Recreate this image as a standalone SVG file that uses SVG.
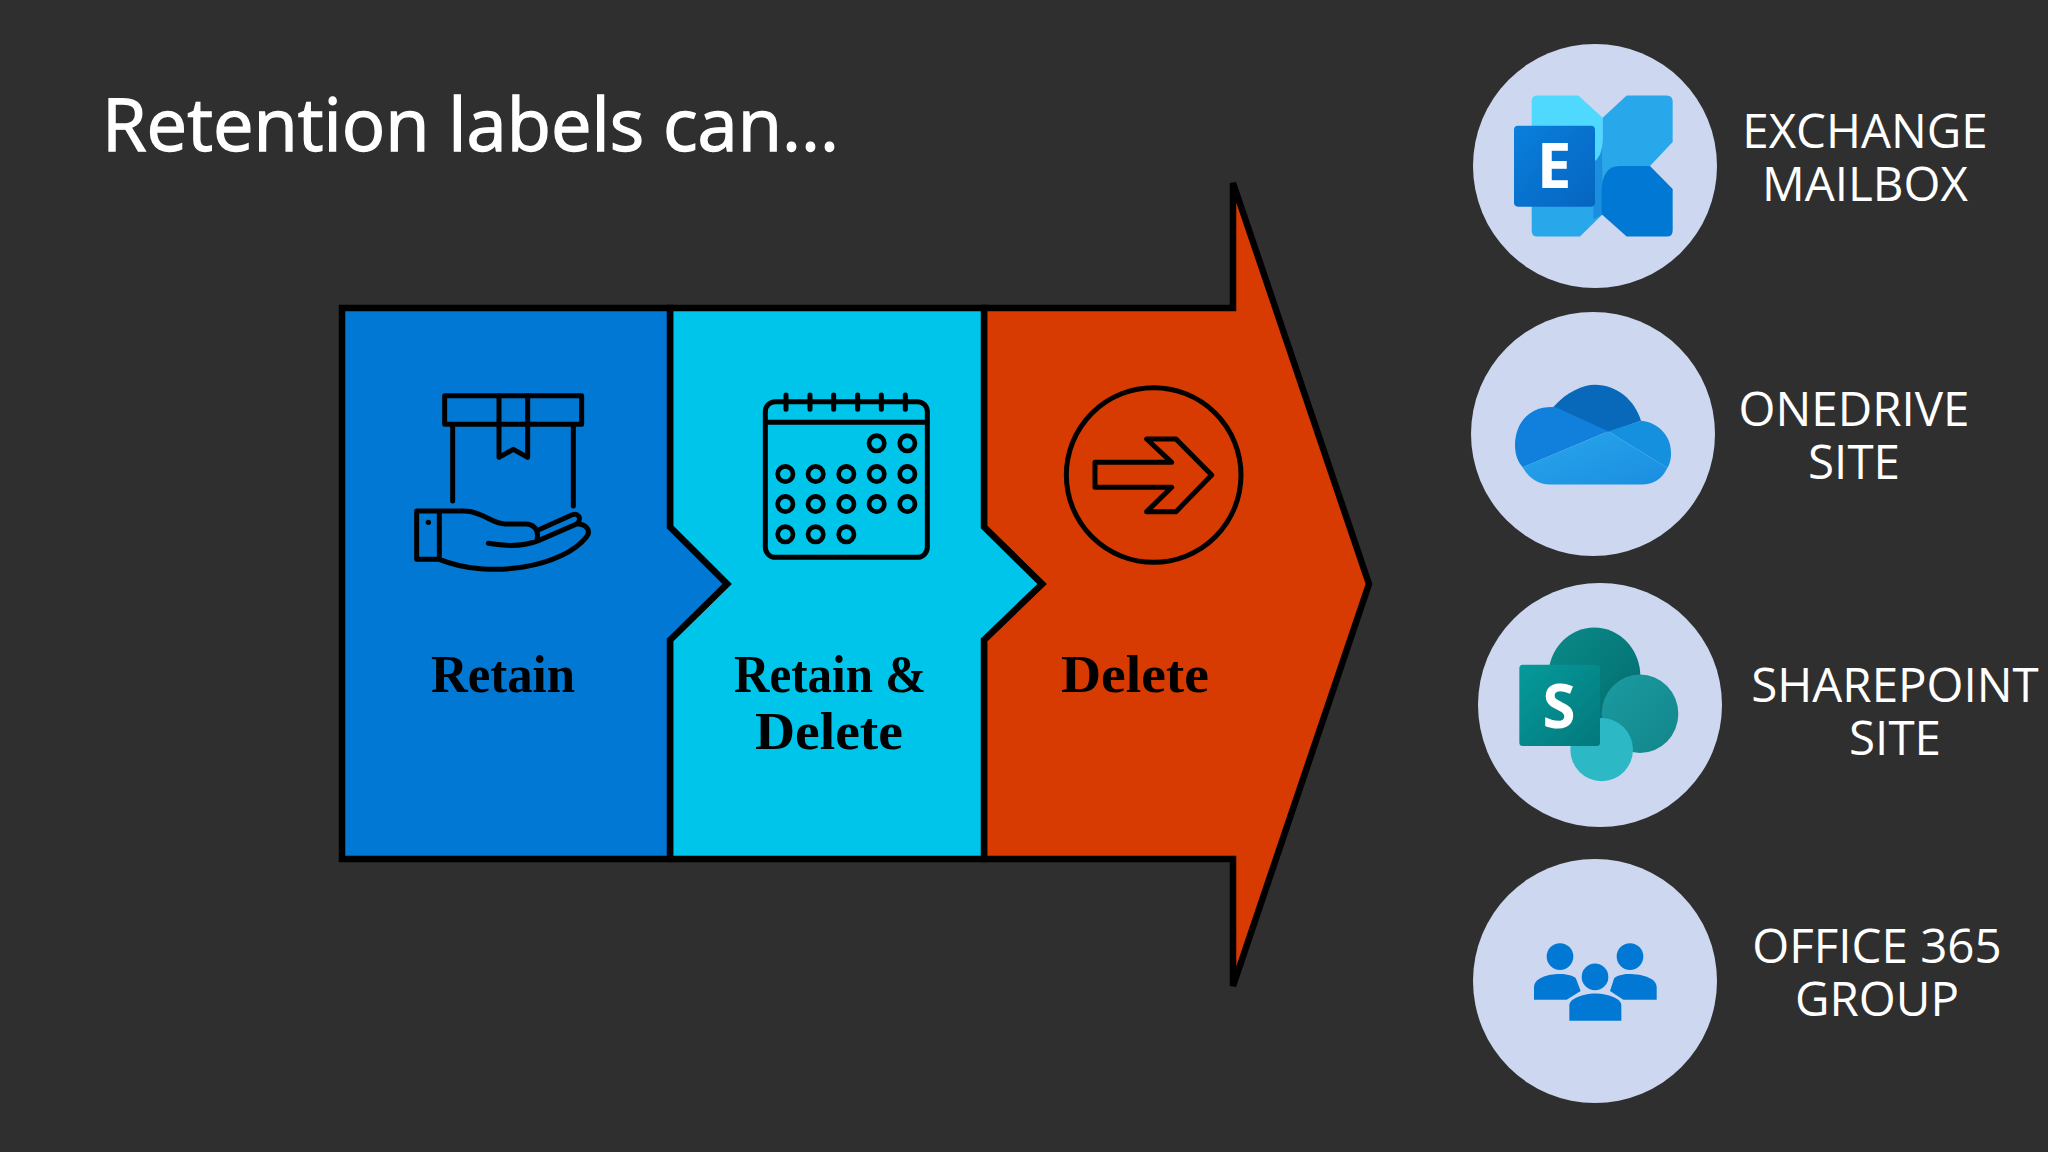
<svg xmlns="http://www.w3.org/2000/svg" width="2048" height="1152" viewBox="0 0 2048 1152">
<defs>
<style>
.seg{stroke:#000;stroke-width:6.5;stroke-linejoin:miter}
.ic{fill:none;stroke:#000;stroke-width:15;stroke-linejoin:round;stroke-linecap:round}
.dot{fill:none;stroke:#000;stroke-width:14}
.stage{font-family:"Liberation Serif",serif;font-weight:700;font-size:53px;fill:#000;text-anchor:middle}
.lbl{font-family:"Open Sans",sans-serif;font-size:47.5px;fill:#fff;text-anchor:middle}
.disc{fill:#cdd8f0}
.glyph{font-family:"Open Sans",sans-serif;font-weight:700;fill:#fff;text-anchor:middle}
</style>
<linearGradient id="exTop" x1="0" y1="0" x2="0" y2="1"><stop offset="0" stop-color="#50d9ff"/><stop offset=".5" stop-color="#50d9ff"/><stop offset=".5" stop-color="#28a8ea"/><stop offset="1" stop-color="#28a8ea"/></linearGradient>
<linearGradient id="exFront" x1="0" y1="0" x2="1" y2="1"><stop offset="0" stop-color="#0a7fdc"/><stop offset="1" stop-color="#0565c0"/></linearGradient>
<linearGradient id="odBottom" x1="0" y1="0" x2="1" y2="1"><stop offset="0" stop-color="#2aa6ec"/><stop offset="1" stop-color="#1a8ee0"/></linearGradient>
<linearGradient id="spBig" x1="0" y1="0" x2="1" y2="1"><stop offset="0" stop-color="#0a8a88"/><stop offset="1" stop-color="#036c70"/></linearGradient>
<linearGradient id="spRight" x1="0" y1="0" x2="1" y2="1"><stop offset="0" stop-color="#1a9ba1"/><stop offset="1" stop-color="#12868a"/></linearGradient>
<linearGradient id="spFront" x1="0" y1="0" x2="1" y2="1"><stop offset="0" stop-color="#069a9a"/><stop offset="1" stop-color="#03787c"/></linearGradient>
</defs>
<rect width="2048" height="1152" fill="#2f2f30"/>
<text id="title" x="102" y="151" font-family="Open Sans, sans-serif" font-size="73" fill="#fff" stroke="#fff" stroke-width="1.3" textLength="737" lengthAdjust="spacingAndGlyphs">Retention labels can...</text>
<g id="process-arrow">
<g id="delete">
<path class="seg" fill="#d83b01" d="M984 308H1233V183L1369 584L1233 986V859H984V640L1042 584L984 527Z"/>
<g transform="translate(1050 370) scale(.33333)">
<circle class="ic" cx="311" cy="315" r="262"/>
<path class="ic" d="M135 277H365L290 207H378L485 315L378 425H290L365 352H135Z"/>
</g>
<text class="stage" x="1135" y="692" textLength="148" lengthAdjust="spacingAndGlyphs">Delete</text>
</g>
<g id="retain-delete">
<path class="seg" fill="#00c5ea" d="M670 308H984V527L1042 584L984 640V859H670V640L727 584L670 527Z"/>
<g transform="translate(750 380) scale(.33333)">
<rect class="ic" x="46" y="65" width="486" height="467" rx="30"/>
<path class="ic" d="M46 127H532M108 45V88M180 45V88M251 45V88M323 45V88M394 45V88M466 45V88"/>
<circle class="dot" cx="380" cy="190" r="23"/><circle class="dot" cx="472" cy="190" r="23"/>
<circle class="dot" cx="106" cy="282" r="23"/><circle class="dot" cx="197" cy="282" r="23"/><circle class="dot" cx="289" cy="282" r="23"/><circle class="dot" cx="380" cy="282" r="23"/><circle class="dot" cx="472" cy="282" r="23"/>
<circle class="dot" cx="106" cy="372" r="23"/><circle class="dot" cx="197" cy="372" r="23"/><circle class="dot" cx="289" cy="372" r="23"/><circle class="dot" cx="380" cy="372" r="23"/><circle class="dot" cx="472" cy="372" r="23"/>
<circle class="dot" cx="106" cy="463" r="23"/><circle class="dot" cx="197" cy="463" r="23"/><circle class="dot" cx="289" cy="463" r="23"/>
</g>
<text class="stage"><tspan x="830" y="692" textLength="192" lengthAdjust="spacingAndGlyphs">Retain &amp;</tspan><tspan x="829" y="749" textLength="148" lengthAdjust="spacingAndGlyphs">Delete</tspan></text>
</g>
<g id="retain">
<path class="seg" fill="#0078d4" d="M342 308H670V527L727 584L670 640V859H342Z"/>
<g transform="translate(390 370) scale(.33333)">
<rect class="ic" x="164" y="77" width="411" height="86"/>
<path class="ic" d="M327 77V262L370 238L413 262V77M188 163V393M550 163V408"/>
<path class="ic" d="M148 423H80V568H148ZM148 423H225C280 425 305 462 345 462H410C440 465 447 490 440 512M295 520C350 530 400 530 445 512L560 462C578 445 565 425 540 437L445 480M560 462C585 460 605 480 590 500C520 590 300 630 148 568"/>
<circle cx="115" cy="457" r="8" fill="#000"/>
</g>
<text class="stage" x="503" y="692" textLength="144" lengthAdjust="spacingAndGlyphs">Retain</text>
</g>
</g>
<g id="exchange">
<circle class="disc" cx="1595" cy="166" r="122"/>
<g transform="translate(1460 30) scale(.33333 .34435)">
<path fill="url(#exTop)" d="M232 190H355L428 255V535L360 600H232Q215 600 215 583V207Q215 190 232 190Z"/>
<path fill="#28a8ea" d="M428 255L500 190H620Q638 190 638 208V325L570 395H480L428 440Z"/>
<path fill="#1a8fdf" d="M400 385Q428 365 428 320V535L400 550Z"/>
<path fill="#0078d4" d="M425 470Q425 395 480 395H570L638 462V582Q638 600 620 600H500L425 535Z"/>
<rect x="162" y="278" width="243" height="235" rx="12" fill="url(#exFront)"/>
</g>
<text class="glyph" x="1554" y="188" font-size="62">E</text>
<text class="lbl"><tspan x="1865" y="148">EXCHANGE</tspan><tspan x="1865" y="201">MAILBOX</tspan></text>
</g>
<g id="onedrive">
<circle class="disc" cx="1593" cy="434" r="122"/>
<g transform="translate(1460 30) scale(.33333 .34435)">
<path fill="#0869bb" d="M280 1095C320 1050 370 1030 405 1030C470 1030 525 1075 543 1135L440 1170Z"/>
<path fill="#1080dc" d="M285 1095C200 1090 165 1150 165 1205C165 1235 175 1255 188 1270L445 1165Z"/>
<path fill="#1490df" d="M543 1135C600 1140 635 1185 633 1230C633 1250 628 1262 622 1272L445 1165Z"/>
<path fill="url(#odBottom)" d="M188 1270L445 1165L622 1272C605 1305 580 1320 545 1320H270C235 1320 205 1300 188 1270Z"/>
</g>
<text class="lbl"><tspan x="1854" y="426">ONEDRIVE</tspan><tspan x="1854" y="479">SITE</tspan></text>
</g>
<g id="sharepoint">
<circle class="disc" cx="1600" cy="705" r="122"/>
<g transform="translate(1460 570) scale(.33333 .35077)">
<ellipse cx="403" cy="302" rx="138" ry="138" fill="url(#spBig)"/>
<ellipse cx="540" cy="410" rx="115" ry="112" fill="url(#spRight)"/>
<ellipse cx="425" cy="512" rx="94" ry="90" fill="#2cb8c4"/>
<rect x="178" y="270" width="242" height="232" rx="10" fill="url(#spFront)"/>
</g>
<text class="glyph" x="1559" y="728" font-size="60">S</text>
<text class="lbl"><tspan x="1895" y="702">SHAREPOINT</tspan><tspan x="1895" y="755">SITE</tspan></text>
</g>
<g id="office365">
<circle class="disc" cx="1595" cy="981" r="122"/>
<g transform="translate(1460 570) scale(.33333 .35077)" fill="#0078d4">
<ellipse cx="300" cy="1102" rx="40" ry="38"/>
<ellipse cx="510" cy="1102" rx="40" ry="38"/>
<path d="M222 1225V1190C222 1165 260 1152 300 1152C325 1152 345 1160 348 1165L362 1200L320 1225Z"/>
<path d="M590 1225V1190C590 1165 550 1152 505 1152C485 1152 465 1160 462 1165L450 1200L490 1225Z"/>
<ellipse cx="405" cy="1160" rx="40" ry="38"/>
<path d="M328 1285V1240C328 1222 370 1207 405 1207C445 1207 484 1222 484 1240V1285Z"/>
</g>
<text class="lbl"><tspan x="1877" y="963">OFFICE 365</tspan><tspan x="1877" y="1016">GROUP</tspan></text>
</g>
</svg>
